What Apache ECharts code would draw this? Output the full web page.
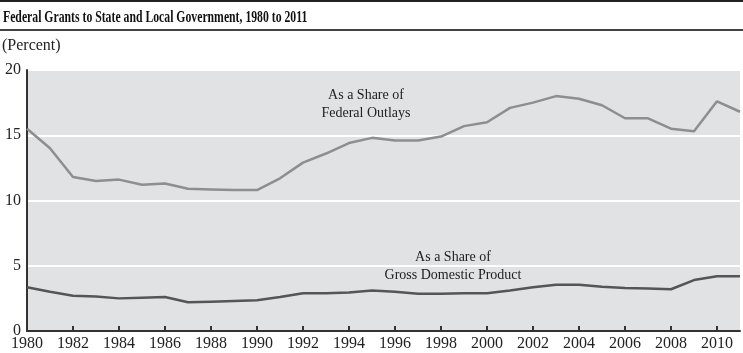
<!DOCTYPE html>
<html>
<head>
<meta charset="utf-8">
<script src="https://cdn.jsdelivr.net/npm/echarts@6/dist/echarts.min.js"></script>
<style>
  html, body { margin: 0; padding: 0; background: #fff; }
  #main { width: 743px; height: 353px; }
</style>
</head>
<body>
<div id="main"></div>
<script>
var years = [];
for (var y = 1980; y <= 2011; y++) years.push(String(y));

// share of federal outlays (percent)
var outlays = [15.5, 14.0, 11.8, 11.5, 11.6, 11.2, 11.3, 10.9, 10.85, 10.8, 10.8, 11.7,
  12.9, 13.6, 14.4, 14.8, 14.6, 14.6, 14.9, 15.7, 16.0, 17.1, 17.5, 18.0,
  17.8, 17.3, 16.3, 16.3, 15.5, 15.3, 17.6, 16.8];

// share of gross domestic product (percent)
var gdp = [3.35, 3.0, 2.7, 2.65, 2.5, 2.55, 2.6, 2.2, 2.25, 2.3, 2.35, 2.6,
  2.9, 2.9, 2.95, 3.1, 3.0, 2.85, 2.85, 2.9, 2.9, 3.1, 3.35, 3.55,
  3.55, 3.4, 3.3, 3.25, 3.2, 3.9, 4.2, 4.2];

var serif = '"Liberation Serif", "DejaVu Serif", serif';
var myChart = echarts.init(document.getElementById('main'));

option = {
  animation: false,
  textStyle: { fontFamily: serif },
  graphic: [
    { type: 'rect', shape: { x: 0, y: 0, width: 743, height: 2 }, style: { fill: '#222' } },
    { type: 'text', x: 3, y: 18, scaleX: 0.69, scaleY: 1, style: { text: 'Federal Grants to State and Local Government, 1980 to 2011',
      font: 'bold 17px ' + serif, fill: '#111', verticalAlign: 'middle' } },
    { type: 'rect', shape: { x: 0, y: 29, width: 743, height: 2 }, style: { fill: '#444' } },
    { type: 'text', x: 2, y: 46, style: { text: '(Percent)', font: '16px ' + serif, fill: '#222', verticalAlign: 'middle' } },
    { type: 'text', x: 366, y: 104, style: { text: 'As a Share of\nFederal Outlays', font: '14px ' + serif,
      fill: '#222', align: 'center', verticalAlign: 'middle', lineHeight: 18 } },
    { type: 'text', x: 453, y: 266, style: { text: 'As a Share of\nGross Domestic Product', font: '14px ' + serif,
      fill: '#222', align: 'center', verticalAlign: 'middle', lineHeight: 18 } }
  ],
  grid: {
    left: 27, right: 3, top: 70, bottom: 22,
    show: true, backgroundColor: '#e1e2e4', borderWidth: 0
  },
  xAxis: {
    type: 'category',
    data: years,
    boundaryGap: false,
    axisLine: { lineStyle: { color: '#333', width: 2 } },
    axisTick: { inside: true, length: 5, interval: 1, lineStyle: { color: '#333', width: 2 } },
    axisLabel: { interval: 1, color: '#222', fontSize: 16, margin: 5, fontFamily: serif }
  },
  yAxis: {
    type: 'value',
    min: 0, max: 20, interval: 5,
    axisLine: { show: true, lineStyle: { color: '#333', width: 2 } },
    axisTick: { show: false },
    axisLabel: { color: '#222', fontSize: 16, margin: 6, fontFamily: serif },
    splitLine: { lineStyle: { color: '#fff', width: 2 } }
  },
  series: [
    {
      name: 'As a Share of Federal Outlays',
      type: 'line',
      data: outlays,
      symbol: 'none',
      lineStyle: { color: '#8e8e8e', width: 2.5 }
    },
    {
      name: 'As a Share of Gross Domestic Product',
      type: 'line',
      data: gdp,
      symbol: 'none',
      lineStyle: { color: '#555', width: 2.5 }
    }
  ]
};

myChart.setOption(option);
</script>
</body>
</html>
